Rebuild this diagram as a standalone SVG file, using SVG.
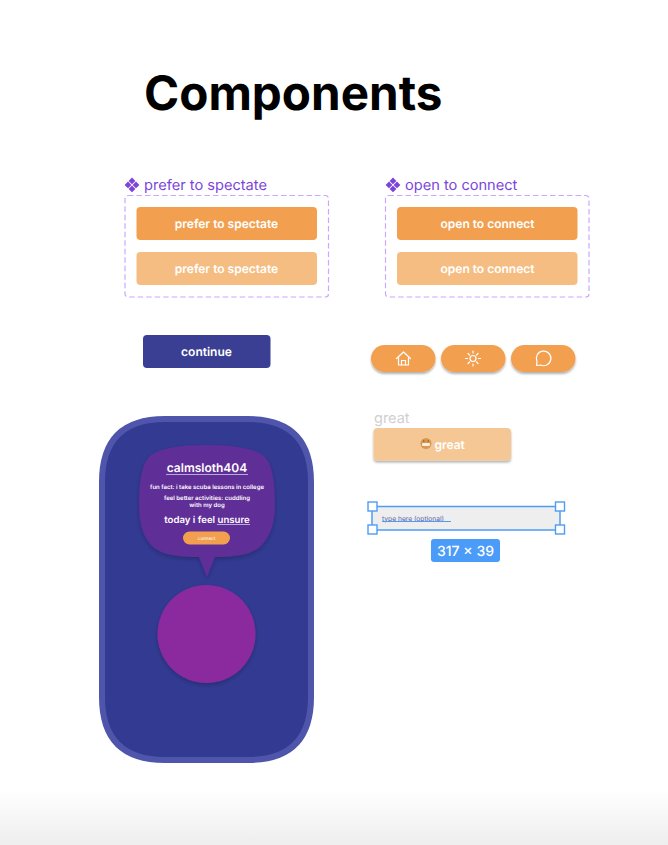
<svg xmlns="http://www.w3.org/2000/svg" width="668" height="845" viewBox="0 0 668 845">
<style>
text{font-family:Inter,"Noto Sans",sans-serif;text-rendering:geometricPrecision}
.c{text-anchor:middle;fill:#fff}
.btn{font-size:12px;font-weight:600}
.lbl{font-size:14.600px;fill:#7b45dc}
.dia{fill:#7b45dc}
.dash{fill:#fff;stroke:#c9a8ff;stroke-width:1.200;stroke-dasharray:5.500 3}
.o{fill:#f2a04f}
.ol{fill:#f5bd82}
.ic{fill:none;stroke:#fff;stroke-width:1.200;stroke-linecap:round;stroke-linejoin:round}
.h{fill:#fff;stroke:#4f9cf6;stroke-width:1.400}
.sm{font-size:6px;font-weight:600}
</style>
<defs>
<linearGradient id="fade" x1="0" y1="0" x2="0" y2="1"><stop offset="0" stop-color="#eee" stop-opacity="0"/><stop offset="1" stop-color="#eee"/></linearGradient>
<filter id="sh" x="-20%" y="-20%" width="140%" height="150%"><feDropShadow dx="0" dy="2" stdDeviation="1.200" flood-color="#000" flood-opacity=".3"/></filter>
<filter id="sh2" x="-20%" y="-20%" width="140%" height="140%"><feDropShadow dx="0" dy="2" stdDeviation="2" flood-color="#000" flood-opacity=".22"/></filter>
</defs>
<rect width="668" height="845" fill="#fff"/>
<rect y="790" width="668" height="55" fill="url(#fade)"/>
<text id="title" x="144" y="110" font-size="47.600" font-weight="700" fill="#000">Components</text>

<g id="prefer-set">
<path class="dia" d="M132 177.500l3.400 3.400-3.400 3.400-3.400-3.400zM128 181.500l3.400 3.400-3.400 3.400-3.400-3.400zM136 181.500l3.400 3.400-3.400 3.400-3.400-3.400zM132 185.500l3.400 3.400-3.400 3.400-3.400-3.400z"/>
<text class="lbl" x="144" y="190">prefer to spectate</text>
<rect class="dash" x="125" y="195.500" width="203.500" height="101.500" rx="3"/>
<rect class="o" x="136.500" y="207" width="180.500" height="33" rx="4"/>
<text class="c btn" x="226.500" y="228">prefer to spectate</text>
<rect class="ol" x="136.500" y="252" width="180.500" height="33" rx="4"/>
<text class="c btn" x="226.500" y="273">prefer to spectate</text>
</g>

<g id="open-set">
<path class="dia" d="M393 177.500l3.400 3.400-3.400 3.400-3.400-3.400zM389 181.500l3.400 3.400-3.400 3.400-3.400-3.400zM397 181.500l3.400 3.400-3.400 3.400-3.400-3.400zM393 185.500l3.400 3.400-3.400 3.400-3.400-3.400z"/>
<text class="lbl" x="405" y="190">open to connect</text>
<rect class="dash" x="385.500" y="195.500" width="203.500" height="101.500" rx="3"/>
<rect class="o" x="397" y="207" width="180.500" height="33" rx="4"/>
<text class="c btn" x="487.500" y="228">open to connect</text>
<rect class="ol" x="397" y="252" width="180.500" height="33" rx="4"/>
<text class="c btn" x="487.500" y="273">open to connect</text>
</g>

<g id="continue">
<rect x="143" y="335" width="127.500" height="33" rx="4" fill="#3a3f94"/>
<text class="c" x="206.500" y="356" font-size="12" font-weight="600">continue</text>
</g>

<g id="nav-home">
<rect class="o" x="371" y="345" width="64.500" height="27" rx="13.500" filter="url(#sh)"/>
<path class="ic" d="M396.500 358.500l7-6.500 7 6.500M398.500 357v8h10v-8M401.500 365v-4.500h4v4.500"/>
</g>
<g id="nav-sun">
<rect class="o" x="441" y="345" width="64.500" height="27" rx="13.500" filter="url(#sh)"/>
<circle class="ic" cx="473" cy="358.500" r="3"/>
<path class="ic" d="M473 351v2M473 364v2M465.500 358.500h2M478.500 358.500h2M468 353.500l1.500 1.500M476.500 362l1.500 1.500M468 363.500l1.500-1.500M476.500 355l1.500-1.500"/>
</g>
<g id="nav-chat">
<rect class="o" x="511" y="345" width="64.500" height="27" rx="13.500" filter="url(#sh)"/>
<path class="ic" d="M536.500 365.500L537 361.500A7.300 7.300 0 1 1 540.500 365 Z"/>
</g>

<g id="great">
<text x="374" y="423" font-size="14.500" fill="#cfcfcf">great</text>
<rect x="373.500" y="428" width="137.500" height="32.500" rx="4" fill="#f5c795" filter="url(#sh)"/>
<circle cx="426" cy="443.500" r="5.500" fill="#d8984f"/>
<rect x="422" y="443" width="8" height="3" rx="1.200" fill="#f6efe0"/>
<path d="M423 441h1.500M427.500 441h1.500" stroke="#6b4a20" stroke-width=".9"/>
<text x="434.500" y="448.500" font-size="12" font-weight="600" fill="#fff">great</text>
</g>

<g id="input">
<rect x="372" y="506.500" width="188" height="23.500" fill="#eee" stroke="#4f9cf6" stroke-width="1.500"/>
<text x="382" y="520.500" font-size="6.700" fill="#5a5fa8">type here (optional)</text>
<line x1="382" y1="521.500" x2="451" y2="521.500" stroke="#4f9cf6" stroke-width="1"/>
<rect class="h" x="368" y="502" width="9" height="9"/>
<rect class="h" x="555.500" y="502" width="9" height="9"/>
<rect class="h" x="368" y="525" width="9" height="9"/>
<rect class="h" x="555.500" y="525" width="9" height="9"/>
<rect x="431" y="539" width="69" height="23" rx="3" fill="#4a9cf8"/>
<text class="c" x="465.500" y="556" font-size="14" font-weight="500">317 × 39</text>
</g>

<g id="profile-card">
<path d="M165 419H248C290 419 311 440 311 482V697C311 739 290 760 248 760H165C123 760 102 739 102 697V482C102 440 123 419 165 419Z" fill="#323a92" stroke="#4e55ab" stroke-width="6"/>
<path d="M207 445C238 445 258 449 266 458C273 467 275 485 275 503C275 522 271 535 262 545C252 555 236 557 215 557L207 577L199 557C178 557 160 555 151 545C142 535 139 522 139 503C139 485 141 467 148 458C156 449 176 445 207 445Z" fill="#5f2d97" filter="url(#sh2)"/>
<text class="c" x="207" y="472" font-size="12" font-weight="600">calmsloth404</text>
<line x1="166" y1="474.500" x2="248" y2="474.500" stroke="#b9a8dc" stroke-width="1"/>
<text class="c sm" x="207" y="488.500">fun fact: i take scuba lessons in college</text>
<text class="c sm" x="207" y="499.500">feel better activities: cuddling</text>
<text class="c sm" x="207" y="506.500">with my dog</text>
<text class="c" x="207" y="523" font-size="9.600" font-weight="600">today i feel unsure</text>
<line x1="217" y1="524.500" x2="250" y2="524.500" stroke="#b9a8dc" stroke-width="1"/>
<rect class="o" x="183" y="531.500" width="47" height="13" rx="6.500"/>
<text class="c" x="206.500" y="540" font-size="4.500">connect</text>
<circle cx="206.500" cy="634" r="49" fill="#8b2a9e" filter="url(#sh2)"/>
</g>
</svg>
